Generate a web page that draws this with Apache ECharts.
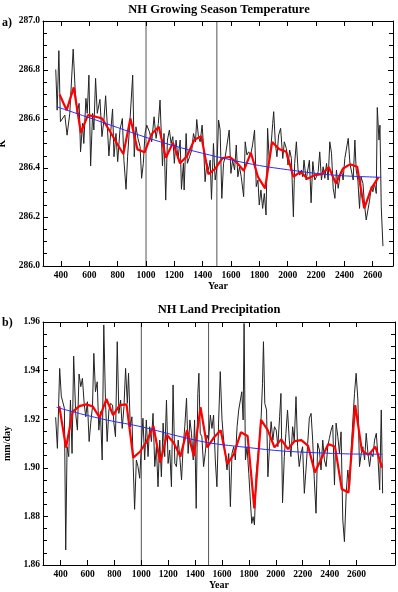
<!DOCTYPE html>
<html>
<head>
<meta charset="utf-8">
<script src="https://cdn.jsdelivr.net/npm/echarts@6.0.0/dist/echarts.min.js"></script>
<style>
  html, body { margin: 0; padding: 0; background: #fff; }
  .layer { position: absolute; left: 0; top: 0; width: 398px; height: 592px; }
</style>
</head>
<body>
<div id="data" class="layer"></div>
<div id="frame" class="layer"></div>
<script>
// tick labels
const yearTicks = [400, 600, 800, 1000, 1200, 1400, 1600, 1800, 2000, 2200, 2400, 2600]
// vertical marker years
const markerYears = [1000, 1500]

// a) NH growing season temperature (K): [year, value]
const tempAnnual = [
  [363,286.802],[373,286.636],[385,286.879],[396,286.589],[410,286.596],[427,286.616],[443,286.534],[462,286.623],
  [486,286.885],[500,286.718],[514,286.623],[528,286.664],[538,286.466],[552,286.582],[561,286.500],[576,286.684],
  [585,286.623],[597,286.779],[609,286.408],[623,286.623],[632,286.555],[644,286.766],[656,286.623],[675,286.680],
  [689,286.528],[703,286.596],[715,286.695],[726,286.582],[738,286.449],[752,286.555],[764,286.641],[774,286.446],
  [788,286.541],[800,286.426],[816,286.555],[833,286.602],[844,286.432],[859,286.313],[870,286.446],[887,286.596],
  [906,286.779],[917,286.446],[929,286.568],[943,286.521],[958,286.487],[969,286.358],[981,286.419],[993,286.541],
  [1005,286.575],[1024,286.548],[1040,286.507],[1057,286.609],[1071,286.521],[1087,286.582],[1099,286.677],[1116,286.408],
  [1127,286.541],[1139,286.269],[1151,286.514],[1165,286.555],[1177,286.500],[1189,286.528],[1200,286.419],[1212,286.514],
  [1226,286.439],[1241,286.514],[1250,286.313],[1264,286.419],[1269,286.310],[1283,286.541],[1292,286.419],[1307,286.446],
  [1323,286.473],[1335,286.541],[1349,286.507],[1358,286.598],[1370,286.528],[1382,286.507],[1396,286.575],[1406,286.487],
  [1417,286.344],[1429,286.419],[1441,286.392],[1453,286.432],[1462,286.272],[1476,286.500],[1488,286.351],
  [1500,286.398],[1512,286.596],[1523,286.555],[1535,286.276],[1547,286.419],[1559,286.446],[1573,286.453],[1587,286.555],
  [1599,286.378],[1611,286.432],[1625,286.392],[1637,286.494],[1648,286.364],[1660,286.405],[1672,286.364],[1689,286.283],
  [1700,286.507],[1712,286.453],[1724,286.466],[1738,286.453],[1752,286.494],[1766,286.555],[1778,286.324],[1790,286.351],
  [1799,286.249],[1811,286.310],[1823,286.235],[1835,286.296],[1847,286.208],[1858,286.562],[1870,286.426],[1882,286.487],
  [1894,286.582],[1901,286.630],[1913,286.500],[1924,286.446],[1936,286.535],[1950,286.562],[1965,286.439],[1976,286.507],
  [1990,286.480],[2002,286.412],[2014,286.473],[2026,286.439],[2040,286.201],[2049,286.419],[2061,286.507],[2073,286.392],
  [2085,286.371],[2097,286.392],[2106,286.364],[2115,286.432],[2130,286.351],[2141,286.358],[2153,286.432],[2165,286.258],
  [2177,286.426],[2191,286.351],[2203,286.364],[2215,286.385],[2226,286.466],[2238,286.351],[2250,286.405],[2262,286.358],
  [2274,286.419],[2285,286.351],[2297,286.507],[2309,286.460],[2321,286.317],[2333,286.276],[2344,286.392],[2356,286.317],
  [2368,286.364],[2380,286.392],[2391,286.351],[2403,286.439],[2415,286.432],[2427,286.521],[2439,286.419],[2450,286.419],
  [2462,286.351],[2474,286.514],[2483,286.392],[2495,286.351],[2507,286.235],[2517,286.364],[2531,286.337],[2542,286.249],
  [2554,286.188],[2566,286.194],[2578,286.269],[2590,286.324],[2601,286.303],[2613,286.337],[2625,286.296],[2632,286.647],
  [2644,286.514],[2651,286.575],[2660,286.242],[2672,286.081]
]
const tempSmooth = [
  [390,286.700],[440,286.636],[490,286.729],[540,286.544],[590,286.616],[640,286.610],[690,286.602],[740,286.555],
  [790,286.505],[840,286.457],[890,286.602],[940,286.476],[990,286.464],[1040,286.539],[1090,286.568],[1140,286.442],
  [1190,286.503],[1240,286.419],[1290,286.449],[1340,286.514],[1390,286.530],[1440,286.375],[1490,286.398],[1540,286.440],
  [1590,286.445],[1640,286.423],[1690,286.389],[1740,286.462],[1790,286.364],[1840,286.317],[1890,286.506],[1940,286.477],
  [1990,286.466],[2040,286.364],[2090,286.385],[2140,286.356],[2190,286.371],[2240,286.375],[2290,286.403],[2340,286.337],
  [2390,286.398],[2440,286.415],[2490,286.405],[2540,286.235],[2590,286.317],[2640,286.362]
]
const tempTrend = [
  [370,286.650],[600,286.605],[800,286.565],[1000,286.525],[1200,286.490],[1400,286.460],
  [1600,286.433],[1800,286.410],[2000,286.393],[2200,286.378],[2400,286.368],[2660,286.362]
]

// b) NH land precipitation (mm/day): [year, value]
const precipAnnual = [
  [363,1.9208],[376,1.9080],[393,1.9409],[405,1.9295],[418,1.9295],[428,1.9245],[438,1.8662],[448,1.9087],
  [460,1.9046],[473,1.9279],[485,1.9059],[497,1.9460],[512,1.9224],[525,1.9155],[537,1.9386],[550,1.9334],
  [562,1.9368],[575,1.9265],[587,1.9210],[599,1.9272],[612,1.9108],[624,1.9184],[637,1.9252],[647,1.9471],
  [659,1.9313],[672,1.9354],[684,1.9155],[696,1.9231],[709,1.9032],[721,1.9588],[734,1.9265],[746,1.9108],
  [759,1.9238],[771,1.9265],[786,1.9258],[796,1.9184],[808,1.9128],[821,1.9519],[833,1.9224],[846,1.9279],
  [858,1.9162],[871,1.9252],[883,1.9409],[896,1.9265],[905,1.9389],[918,1.9169],[930,1.9210],[940,1.9005],
  [950,1.8829],[963,1.9032],[975,1.9005],[988,1.8957],[1000,1.9087],[1012,1.9204],[1025,1.9032],[1037,1.9197],
  [1050,1.9046],[1062,1.9169],[1075,1.9108],[1087,1.9224],[1100,1.9005],[1112,1.9087],[1124,1.8922],[1137,1.9114],
  [1149,1.8963],[1162,1.9184],[1174,1.9046],[1187,1.9279],[1199,1.9018],[1211,1.9073],[1224,1.8922],[1236,1.9341],
  [1249,1.9018],[1261,1.9005],[1274,1.9114],[1286,1.9046],[1299,1.8950],[1311,1.9087],[1323,1.9169],[1336,1.9286],
  [1348,1.9059],[1361,1.9197],[1373,1.9142],[1386,1.9032],[1396,1.9197],[1408,1.8833],[1420,1.9306],[1428,1.9389],
  [1438,1.9142],[1450,1.9128],[1463,1.9005],[1475,1.9059],[1488,1.9135],[1500,1.9114],[1513,1.9217],[1525,1.9162],
  [1537,1.9217],
  [1550,1.9032],[1562,1.8922],[1575,1.9197],[1587,1.9396],[1600,1.9197],[1612,1.9114],[1625,1.9053],[1637,1.8991],
  [1650,1.9059],[1662,1.8840],[1674,1.9059],[1687,1.9087],[1699,1.9032],[1712,1.9169],[1724,1.9238],[1737,1.9245],
  [1747,1.9313],[1757,1.9197],[1764,1.9594],[1774,1.9032],[1786,1.9087],[1799,1.8977],[1809,1.8881],[1821,1.8771],
  [1831,1.8799],[1841,1.8765],[1854,1.8977],[1866,1.9046],[1878,1.9114],[1891,1.9210],[1901,1.9348],[1908,1.9519],
  [1918,1.9265],[1931,1.9238],[1941,1.8963],[1953,1.9087],[1965,1.9190],[1978,1.9114],[1990,1.9169],[2003,1.9155],
  [2015,1.9087],[2028,1.9210],[2038,1.9306],[2050,1.8856],[2063,1.9046],[2075,1.9142],[2087,1.9238],[2100,1.9114],
  [2112,1.9046],[2125,1.9169],[2137,1.9108],[2150,1.9293],[2162,1.9087],[2174,1.9005],[2187,1.9059],[2199,1.9087],
  [2212,1.8895],[2224,1.8991],[2237,1.9101],[2249,1.9204],[2262,1.9224],[2274,1.9114],[2286,1.8950],[2299,1.8813],
  [2311,1.9101],[2324,1.9073],[2336,1.8991],[2349,1.9114],[2361,1.9032],[2374,1.9005],[2386,1.9087],[2398,1.9121],
  [2411,1.9155],[2423,1.9176],[2436,1.8929],[2448,1.9184],[2461,1.9128],[2473,1.9059],[2485,1.9148],[2498,1.8785],
  [2510,1.8696],[2523,1.8895],[2535,1.8991],[2548,1.8922],[2560,1.9073],[2573,1.9197],[2585,1.9306],[2597,1.9389],
  [2610,1.9279],[2622,1.9005],[2635,1.9059],[2647,1.9087],[2660,1.9032],[2672,1.9142],[2685,1.9059],[2697,1.9005],
  [2709,1.9059],[2722,1.9046],[2734,1.9114],[2747,1.9142],[2759,1.9046],[2772,1.8909],[2784,1.9238],[2794,1.8895]
]
const precipSmooth = [
  [390,1.9254],[440,1.9083],[490,1.9231],[540,1.9254],[590,1.9261],[640,1.9252],[690,1.9206],[740,1.9283],
  [790,1.9217],[840,1.9258],[890,1.9261],[940,1.9042],[990,1.9066],[1040,1.9108],[1090,1.9172],[1140,1.9022],
  [1190,1.9135],[1240,1.9104],[1290,1.9046],[1340,1.9155],[1390,1.9048],[1440,1.9249],[1490,1.9084],[1540,1.9125],
  [1590,1.9155],[1640,1.9015],[1690,1.9059],[1740,1.9146],[1790,1.9131],[1840,1.8833],[1890,1.9197],[1940,1.9155],
  [1990,1.9084],[2040,1.9117],[2090,1.9077],[2140,1.9110],[2190,1.9114],[2240,1.9090],[2290,1.8981],[2340,1.9039],
  [2390,1.9098],[2440,1.9087],[2490,1.8913],[2540,1.8898],[2590,1.9258],[2640,1.9070],[2690,1.9053],[2740,1.9087],
  [2790,1.9001]
]
const precipTrend = [
  [370,1.9249],[550,1.9222],[750,1.9196],[1000,1.9169],[1240,1.9135],[1500,1.9103],
  [1800,1.9083],[2050,1.9069],[2300,1.9062],[2545,1.9057],[2790,1.9056]
]

const serif = '"Liberation Serif", "DejaVu Serif", serif'
const txt = () => ({ fontFamily: serif, fontWeight: 'bold', color: '#000' })

const gridBoxes = () => [
  { left: 43, top: 21, width: 350, height: 245, outerBoundsMode: 'none' },
  { left: 43, top: 322, width: 352, height: 243, outerBoundsMode: 'none' },
]
const xRange = [[273, 2743], [269, 2886]]
const yRange = [[286.0, 287.0], [1.86, 1.96]]

// ---- visible frame: axes, ticks, labels (own instance, ticks vanished when drawn with the dense series)
function xAxisPair(gridIndex) {
  const base = () => ({
    type: 'value', gridIndex: gridIndex, min: xRange[gridIndex][0], max: xRange[gridIndex][1],
    axisLine: { show: true, onZero: false, lineStyle: { color: '#000', width: 1 } },
    axisTick: { show: true, inside: true, length: 5, customValues: yearTicks.slice(), lineStyle: { color: '#000', width: 1 } },
    splitLine: { show: false },
  })
  return [
    Object.assign(base(), {
      position: 'bottom',
      axisLabel: Object.assign({ customValues: yearTicks.slice(), margin: 5, fontSize: 9.5, formatter: (v) => String(v) }, txt()),
      name: 'Year', nameLocation: 'middle', nameGap: 15,
      nameTextStyle: Object.assign({ fontSize: 10 }, txt()),
    }),
    Object.assign(base(), { position: 'top', axisLabel: { show: false } }),
  ]
}

function yAxisPair(gridIndex, interval, digits, name) {
  const base = () => ({
    type: 'value', gridIndex: gridIndex, min: yRange[gridIndex][0], max: yRange[gridIndex][1], interval: interval,
    axisLine: { show: true, onZero: false, lineStyle: { color: '#000', width: 1 } },
    axisTick: { show: true, inside: true, length: 5, lineStyle: { color: '#000', width: 1 } },
    minorTick: { show: true, splitNumber: 4, length: 4, lineStyle: { color: '#000', width: 1 } },
    splitLine: { show: false },
  })
  return [
    Object.assign(base(), {
      position: 'left',
      axisLabel: Object.assign({ margin: 3, fontSize: 9.5, formatter: (v) => v.toFixed(digits) }, txt()),
      name: name, nameLocation: 'middle', nameGap: 29,
      nameTextStyle: Object.assign({ fontSize: 10 }, txt()),
    }),
    Object.assign(base(), { position: 'right', axisLabel: { show: false } }),
  ]
}

function label(text, x, y, size, align) {
  return {
    type: 'text', x: x, y: y, silent: true,
    style: { text: text, fill: '#000', fontFamily: serif, fontWeight: 'bold', fontSize: size, align: align, verticalAlign: 'top' },
  }
}

// ---- data layer: hidden axes with the same scales
function hiddenAxis(gridIndex, range) {
  return {
    type: 'value', gridIndex: gridIndex, min: range[0], max: range[1],
    axisLine: { show: false }, axisTick: { show: false }, axisLabel: { show: false }, splitLine: { show: false },
  }
}

function dataSeries(i, annual, smooth) {
  const markers = markerYears.map((yr) => ({
    type: 'line', xAxisIndex: i, yAxisIndex: i, data: [[yr, yRange[i][0]], [yr, yRange[i][1]]], showSymbol: false,
    silent: true, lineStyle: { color: '#555', width: 1 },
  }))
  return markers.concat([
    {
      type: 'line', xAxisIndex: i, yAxisIndex: i, data: annual, showSymbol: false,
      lineStyle: { color: '#222', width: 1 },
    },
    {
      type: 'line', xAxisIndex: i, yAxisIndex: i, data: smooth, showSymbol: false,
      lineStyle: { color: '#ff0000', width: 2.2 },
    },
  ])
}

const dataChart = echarts.init(document.getElementById('data'))
dataChart.setOption({
  animation: false,
  grid: gridBoxes(),
  xAxis: [hiddenAxis(0, xRange[0]), hiddenAxis(1, xRange[1])],
  yAxis: [hiddenAxis(0, yRange[0]), hiddenAxis(1, yRange[1])],
  series: dataSeries(0, tempAnnual, tempSmooth).concat(dataSeries(1, precipAnnual, precipSmooth)),
})

const frameChart = echarts.init(document.getElementById('frame'))
frameChart.setOption({
  animation: false,
  backgroundColor: 'transparent',
  grid: gridBoxes(),
  xAxis: xAxisPair(0).concat(xAxisPair(1)),
  yAxis: yAxisPair(0, 0.2, 1, 'K').concat(yAxisPair(1, 0.02, 2, 'mm/day')),
  series: [
    { type: 'line', xAxisIndex: 0, yAxisIndex: 0, data: tempTrend, showSymbol: false, smooth: 0.3,
      lineStyle: { color: '#2b2bff', width: 1 } },
    { type: 'line', xAxisIndex: 2, yAxisIndex: 2, data: precipTrend, showSymbol: false, smooth: 0.3,
      lineStyle: { color: '#2b2bff', width: 1 } },
  ],
})
frameChart.setOption({
  graphic: [
    label('NH Growing Season Temperature', 219, 3, 12.5, 'center'),
    label('NH Land Precipitation', 219, 303, 12.5, 'center'),
    label('a)', 2, 17, 12, 'left'),
    label('b)', 2, 317, 12, 'left'),
  ],
})
</script>
</body>
</html>
